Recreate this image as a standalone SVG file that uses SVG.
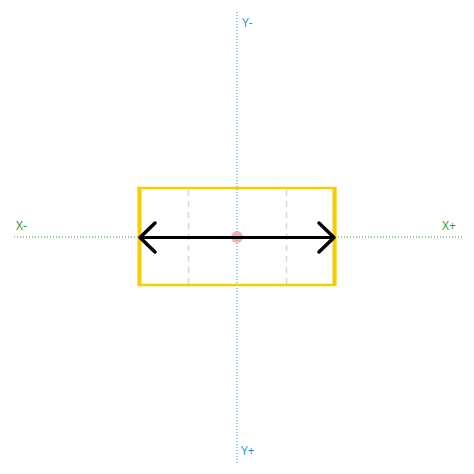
<svg xmlns="http://www.w3.org/2000/svg" width="474" height="474" viewBox="0 0 474 474">
<style>
.lbl{font-family:"Open Sans","Liberation Sans",sans-serif;font-size:12px}
.x{fill:#22a022}
.y{fill:#2b8fd6}
</style>
<rect width="474" height="474" fill="#fff"/>
<g id="axes">
<line x1="14" y1="237" x2="462" y2="237" stroke="#2aa82a" stroke-width="1" stroke-dasharray="1,2"/>
<line x1="237" y1="12" x2="237" y2="463" stroke="#2894e0" stroke-width="1" stroke-dasharray="1,2"/>
<text class="lbl x" x="16" y="230">X-</text>
<text class="lbl x" x="442" y="230">X+</text>
<text class="lbl y" x="242" y="27">Y-</text>
<text class="lbl y" x="241" y="455">Y+</text>
</g>
<g id="box">
<line x1="188.5" y1="190" x2="188.5" y2="284" stroke="#d8d8d8" stroke-width="1.5" stroke-dasharray="6,5"/>
<line x1="286.5" y1="190" x2="286.5" y2="284" stroke="#d8d8d8" stroke-width="1.5" stroke-dasharray="6,5"/>
<rect x="139" y="188" width="196" height="97" fill="none" stroke="#f5cd00" stroke-width="2.5"/>
<line x1="139.5" y1="187" x2="139.5" y2="286" stroke="#f5cd00" stroke-width="4"/>
<line x1="334.5" y1="187" x2="334.5" y2="286" stroke="#f5cd00" stroke-width="4"/>
<circle cx="237" cy="237" r="6" fill="#f0a0a0" opacity="0.8"/>
</g>
<g id="connectors">
<line x1="141" y1="237.5" x2="333" y2="237.5" stroke="#000" stroke-width="3"/>
<polyline points="155,223 140,237.5 155,252" fill="none" stroke="#000" stroke-width="3.5" stroke-linecap="round" stroke-linejoin="round"/>
<polyline points="319,223 334,237.5 319,252" fill="none" stroke="#000" stroke-width="3.5" stroke-linecap="round" stroke-linejoin="round"/>
</g>
</svg>
